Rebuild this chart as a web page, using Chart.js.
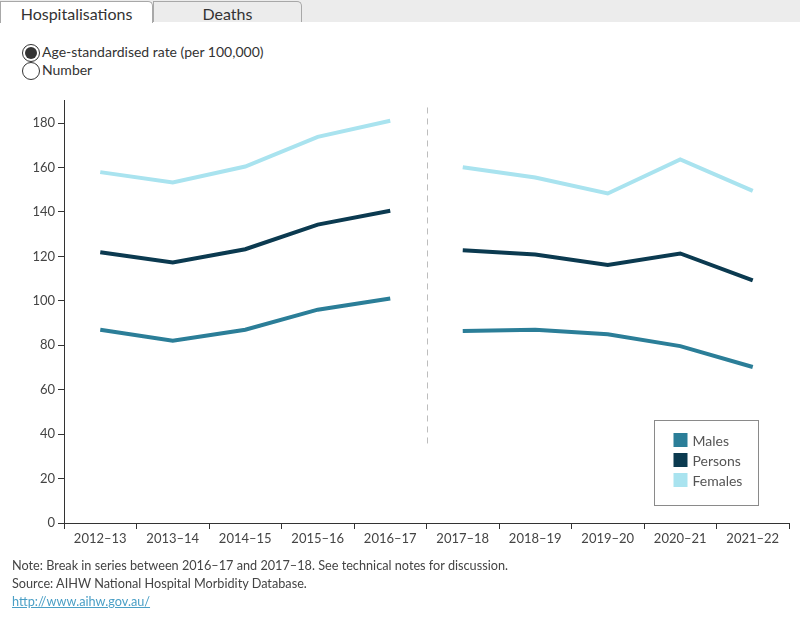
<!DOCTYPE html>
<html>
<head>
<meta charset="utf-8">
<script src="https://cdn.jsdelivr.net/npm/chart.js@4"></script>
<style>
body{margin:0;width:800px;height:620px;background:#fff;font-family:Lato,"Open Sans",sans-serif;position:relative;overflow:hidden;}
.band{position:absolute;left:0;top:0;width:800px;height:22px;background:#ececec;}
.tab{position:absolute;top:1px;height:21px;border:1px solid #a8a8a8;border-bottom:none;border-radius:0 5px 0 0;font-size:16px;color:#333;text-align:center;line-height:24px;box-sizing:border-box;}
.radio{position:absolute;left:22px;font-size:14px;color:#333;}
.radio span.c{display:inline-block;width:16px;height:16px;border:1px solid #333;border-radius:50%;vertical-align:middle;position:relative;margin-right:2px;}
.radio span.c.on:after{content:"";position:absolute;left:2px;top:2px;width:12px;height:12px;border-radius:50%;background:#333;}
.note{position:absolute;left:12px;font-size:12.7px;color:#444;}
#wrap{position:absolute;left:0;top:90px;width:800px;height:470px;}
</style>
</head>
<body>
<div class="band"></div>
<div class="tab" style="left:0;width:153px;height:22px;background:#fff;">Hospitalisations</div>
<div class="tab" style="left:153px;width:149px;background:#ececec;">Deaths</div>
<div class="radio" style="top:43px;"><span class="c on"></span>Age-standardised rate (per 100,000)</div>
<div class="radio" style="top:61px;"><span class="c"></span>Number</div>
<div id="wrap"><canvas id="chart"></canvas></div>
<div class="note" style="top:557px;">Note: Break in series between 2016–17 and 2017–18. See technical notes for discussion.</div>
<div class="note" style="top:575px;">Source: AIHW National Hospital Morbidity Database.</div>
<div class="note" style="top:593px;color:#4a9fc6;text-decoration:underline;">http://www.aihw.gov.au/</div>
<script>
//financial years on the x axis
var years=["2012–13","2013–14","2014–15","2015–16","2016–17","2017–18","2018–19","2019–20","2020–21","2021–22"];
//age-standardised rates per 100,000
var males=[87.0,82.0,87.0,96.0,101.0,86.4,87.0,84.9,79.6,70.2];
var persons=[121.8,117.2,123.2,134.3,140.5,122.7,120.8,116.1,121.3,109.2];
var females=[157.9,153.2,160.4,173.8,181.0,160.1,155.5,148.3,163.6,149.5];
//index of last year before the break in series
var breakAfter=4;
//value range of the dashed break line
var breakTop=187;
var breakBottom=34;

var colors={Males:"#2b7e98",Persons:"#0b3a50",Females:"#a9e3ef"};

//line that skips the segment across the break
function makeSeries(name,values){
    var col=colors[name];
    return {
        label:name,
        data:values,
        borderColor:col,
        backgroundColor:col,
        borderWidth:4,
        pointRadius:0,
        tension:0,
        segment:{
            borderColor:function(ctx){ return ctx.p0DataIndex==breakAfter ? "rgba(0,0,0,0)" : col; }
        }
    };
}

//draws dashed break line and the boxed legend
var extras={
    id:"extras",
    afterDatasetsDraw:function(chart){
        var c=chart.ctx;
        var x=chart.scales.x;
        var y=chart.scales.y;
        var bx=(x.getPixelForValue(breakAfter)+x.getPixelForValue(breakAfter+1))/2;
        c.save();
        c.strokeStyle="#bdbdbd";
        c.lineWidth=1;
        c.setLineDash([6,5]);
        c.beginPath();
        c.moveTo(Math.round(bx)+0.5,y.getPixelForValue(breakTop));
        c.lineTo(Math.round(bx)+0.5,y.getPixelForValue(breakBottom));
        c.stroke();
        c.setLineDash([]);
        //legend box
        var lx=654.5, ly=330.5, lw=104, lh=85;
        c.strokeStyle="#8a8a8a";
        c.strokeRect(lx,ly,lw,lh);
        c.font="14px Lato";
        c.textBaseline="middle";
        var ds=chart.data.datasets;
        for(var i=0;i<ds.length;i++){
            var ry=ly+19.5+i*20;
            c.fillStyle=ds[i].borderColor;
            c.fillRect(lx+19,ry-7,14,14);
            c.fillStyle="#555";
            c.fillText(ds[i].label,lx+38,ry+1);
        }
        c.restore();
    }
};

var chart=new Chart(document.getElementById("chart"),{
    type:"line",
    data:{
        labels:years,
        datasets:[makeSeries("Males",males),makeSeries("Persons",persons),makeSeries("Females",females)]
    },
    options:{
        responsive:true,
        maintainAspectRatio:false,
        animation:false,
        layout:{padding:{top:10,right:11,left:0,bottom:0}},
        plugins:{legend:{display:false},tooltip:{enabled:false}},
        scales:{
            x:{
                offset:true,
                grid:{offset:true,drawOnChartArea:false,drawTicks:true,tickLength:6,color:"#333"},
                border:{display:true,color:"#333",width:1},
                ticks:{color:"#444",font:{family:"Lato",size:13},padding:2,maxRotation:0,autoSkip:false},
                afterFit:function(s){ s.height=37; }
            },
            y:{
                min:0,
                max:190,
                grid:{drawOnChartArea:false,drawTicks:true,tickLength:6,color:"#333"},
                border:{display:true,color:"#333",width:1},
                ticks:{stepSize:20,color:"#444",font:{family:"Lato",size:13},padding:3},
                afterBuildTicks:function(s){ s.ticks=s.ticks.filter(function(t){ return t.value<=180; }); },
                afterFit:function(s){ s.width=64; }
            }
        }
    },
    plugins:[extras]
});
</script>
</body>
</html>
